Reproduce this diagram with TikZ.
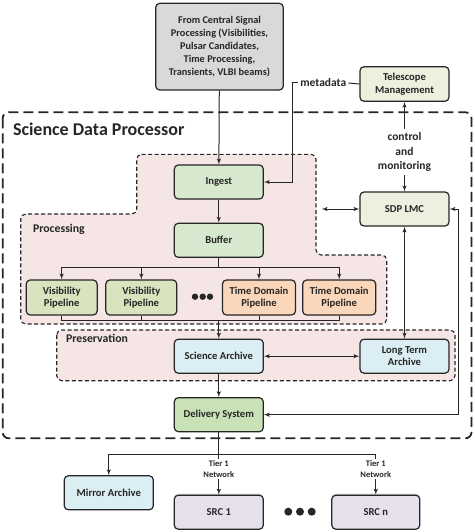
\documentclass[tikz,border=0pt]{standalone}
\usepackage{fontspec}
\setmainfont{Carlito}
\usetikzlibrary{arrows, shadows}

\definecolor{ink}{RGB}{38,38,38}
\definecolor{cspgray}{RGB}{217,217,217}
\definecolor{stagegreen}{RGB}{214,232,205}
\definecolor{delivgreen}{RGB}{200,225,183}
\definecolor{lmcgreen}{RGB}{235,241,222}
\definecolor{visgreen}{RGB}{215,228,190}
\definecolor{timeorange}{RGB}{250,214,186}
\definecolor{archblue}{RGB}{219,238,243}
\definecolor{srclilac}{RGB}{229,224,236}
\definecolor{regionpink}{RGB}{246,229,229}

\tikzset{
  box/.style = {draw=ink, text=ink, line width=1.2pt, rounded corners=4pt,
                minimum width=89pt, minimum height=34pt, align=center},
  pipe/.style = {box, minimum width=71pt, minimum height=35pt},
  sdp/.style = {draw=ink, line width=1.8pt, dash pattern=on 10pt off 5pt, rounded corners=6pt},
  region/.style = {draw=ink, line width=1.1pt, dash pattern=on 4pt off 2.5pt,
                   rounded corners=5pt, fill=regionpink},
  label/.style = {text=ink, anchor=west, font=\bfseries\fontsize{11.8}{13}\selectfont},
  tier/.style = {text=ink, align=center, inner sep=1pt, font=\bfseries\fontsize{8.5}{11.7}\selectfont},
  link/.style = {draw=ink, line width=1pt}
}

\begin{document}
\begin{tikzpicture}[x=1pt, y=-1pt, >=latex', font=\bfseries\fontsize{10.6}{12.5}\selectfont]
\useasboundingbox (0,0) rectangle (474,532);

% regions
\draw[sdp] (2.7,112.3) rectangle (471.5,438.3);
\node (title) at (9.5,129) [label, font=\bfseries\fontsize{18}{20}\selectfont] {Science Data Processor};
\draw[region] (136.7,154.3) -- (316,154.3) -- (316,255) -- (386.7,255) -- (386.7,324)
  -- (20.7,324) -- (20.7,214) -- (136.7,214) -- cycle;
\node (proc) at (29.5,229) [label] {Processing};
\draw[region] (56.7,330) rectangle (455,380.7);
\node (pres) at (62.5,338.5) [label] {Preservation};

% boxes
\node[box, fill=cspgray, minimum width=127.6pt, minimum height=86.7pt,
      font=\bfseries\fontsize{10.3}{13}\selectfont] (csp) at (219.5,46.7)
  {From Central Signal\\Processing (Visibilities,\\Pulsar Candidates,\\Time Processing,\\Transients, VLBI beams)};
\node[box, fill=lmcgreen, minimum height=34.5pt] (tm) at (404.5,84) {Telescope\\Management};
\node[box, fill=stagegreen] (ingest) at (218.8,182) {Ingest};
\node[box, fill=stagegreen] (buffer) at (218.8,240.3) {Buffer};
\node[box, fill=lmcgreen] (lmc) at (404.5,209) {SDP LMC};
\node[pipe, fill=visgreen] (vis1) at (61.7,297.5) {Visibility\\Pipeline};
\node[pipe, fill=visgreen] (vis2) at (141.3,297.5) {Visibility\\Pipeline};
\node[pipe, fill=timeorange, minimum width=73pt] (time1) at (259,297.5) {Time Domain\\Pipeline};
\node[pipe, fill=timeorange, minimum width=73pt] (time2) at (339.2,297.5) {Time Domain\\Pipeline};
\node[box, fill=archblue] (sci) at (218.8,356.2) {Science Archive};
\node[box, fill=archblue] (lta) at (404.5,356.2) {Long Term\\Archive};
\node[box, fill=delivgreen] (deliv) at (218.8,414.7) {Delivery System};
\node[box, fill=archblue] (mirror) at (108.8,492.8) {Mirror Archive};
\node[box, fill=srclilac, drop shadow={shadow xshift=0pt, shadow yshift=1.5pt, fill=black!35}] (src1) at (218.8,512.2) {SRC 1};
\node[box, fill=srclilac, minimum width=88pt, drop shadow={shadow xshift=0pt, shadow yshift=1.5pt, fill=black!35}] (srcn) at (375.8,512.2) {SRC n};

% labels
\node[text=ink, align=center, font=\bfseries\fontsize{11.5}{14.5}\selectfont] (ctrl) at (404.5,152) {control\\and\\monitoring};
\node[text=ink, inner sep=2pt, font=\bfseries\fontsize{11.5}{13}\selectfont] (meta) at (323.3,83) {metadata};
\node[tier] (tier1) at (218.8,469) {Tier 1\\Network};
\node[tier] (tiern) at (375.8,469) {Tier 1\\Network};

% dots
\foreach \x in {195,202.7,210} \fill[ink] (\x,296.7) circle (3.2pt);
\foreach \x in {288.3,300,311.7} \fill[ink] (\x,511.7) circle (4pt);

% connectors
\coordinate (metacorner) at (292.3,83);
\coordinate (split) at (218.8,267.3);
\coordinate (merge) at (218.8,320);
\coordinate (procedge) at (321.7,209);
\coordinate (rside) at (458.3,209);
\coordinate (fan) at (218.8,454);

\draw[link, ->] (csp) -- (ingest);
\draw[link] (tm.west) -- (meta.east);
\draw[link, ->] (meta.west) -- (metacorner) |- (ingest.east);
\draw[link, ->] (ingest) -- (buffer);
\foreach \p in {vis1, vis2, time1, time2} {
  \draw[link, ->] (buffer.south) -- (split) -| (\p.north);
  \draw[link] (\p.south) |- (merge);
}
\draw[link, ->] (merge) -- (sci);
\draw[link, ->] (ctrl) -- (tm);
\draw[link, ->] (ctrl) -- (lmc);
\draw[link, <->] (procedge) -- (lmc);
\draw[link, <->] (lmc) -- (lta);
\draw[link, <->] (sci) -- (lta);
\draw[link, ->] (sci) -- (deliv);
\draw[link, <->] (lmc.east) -- (rside) |- (deliv.east);
\draw[link] (deliv.south) -- (tier1.north);
\draw[link, ->] (fan) -| (mirror.north);
\draw[link] (fan) -| (tiern.north);
\draw[link, ->] (tier1) -- (src1);
\draw[link, ->] (tiern) -- (srcn);

\end{tikzpicture}
\end{document}
